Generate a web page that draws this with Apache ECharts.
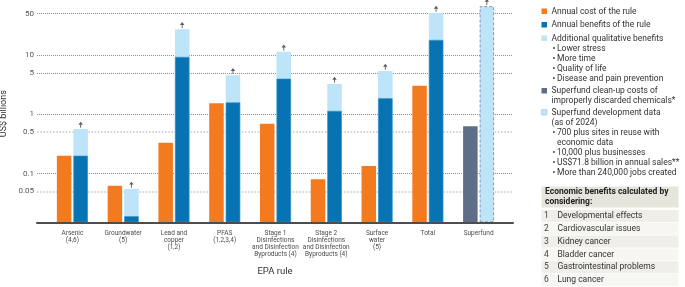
<!DOCTYPE html>
<html>
<head>
<meta charset="utf-8">
<script src="https://cdn.jsdelivr.net/npm/echarts@6/dist/echarts.min.js"></script>
<style>
  html, body { margin: 0; padding: 0; background: #fff; }
  #chart { width: 685px; height: 287px; }
</style>
</head>
<body>
<div id="chart"></div>
<script>
// data (US$ billions, log scale)
const categories = [
  'Arsenic\n(4,6)', 'Groundwater\n(5)', 'Lead and\ncopper\n(1,2)', 'PFAS\n(1,2,3,4)',
  'Stage 1\nDisinfections\nand Disinfection\nByproducts (4)',
  'Stage 2\nDisinfections\nand Disinfection\nByproducts (4)',
  'Surface\nwater\n(5)', 'Total', 'Superfund'
]
const annualCost = [0.2, 0.062, 0.33, 1.53, 0.69, 0.08, 0.134, 3.04, null]
const annualBenefits = [0.2, 0.019, 9.3, 1.59, 4.0, 1.14, 1.86, 18.0, null]
const qualitativeTop = [0.565, 0.055, 27.3, 4.56, 11.4, 3.25, 5.39, 51.4, null]
const superfundCleanup = 0.63
const superfundDevelopment = 67
const yTicks = [0.05, 0.1, 0.5, 1, 5, 10, 50]

const ORANGE = '#f47a20'
const BLUE = '#0773b3'
const LIGHT = '#bde4f8'
const SLATE = '#5e6e88'
const FONT = 'Roboto'

const last = categories.length - 1

let costData = annualCost.map((v, i) => i === last ? { value: superfundCleanup, itemStyle: { color: SLATE } } : v)
let qualData = qualitativeTop.map((v, i) => i === last ? {
  value: superfundDevelopment,
  itemStyle: { color: LIGHT, borderColor: '#8797aa', borderType: [3, 2], borderWidth: 1 }
} : v)
let benefitData = annualBenefits.map(v => v == null ? '-' : v)
let arrowData = qualitativeTop.map((v, i) => i === last ? superfundDevelopment : v)

// legend + table on the right, drawn as text
let graphics = []
const addText = (x, y, text, opt) => {
  graphics.push({
    type: 'text', x: x, y: y, z: 10,
    style: Object.assign({ text: text, fill: '#333', fontSize: 8.5, fontFamily: FONT, verticalAlign: 'middle' }, opt || {})
  })
}
const addRect = (x, y, w, h, fill, stroke, dash) => {
  graphics.push({
    type: 'rect', z: 5, shape: { x: x, y: y, width: w, height: h },
    style: { fill: fill, stroke: stroke || null, lineWidth: stroke ? 1 : 0, lineDash: dash || null }
  })
}

addRect(541.5, 8.5, 5.5, 5.5, ORANGE)
addText(551.5, 11.5, 'Annual cost of the rule')
addRect(541.5, 22, 5.5, 5.5, BLUE)
addText(551.5, 25, 'Annual benefits of the rule')
addRect(541.5, 35.5, 5.5, 5.5, LIGHT)
addText(551.5, 38.5, 'Additional qualitative benefits')
let bullets1 = ['Lower stress', 'More time', 'Quality of life', 'Disease and pain prevention']
bullets1.forEach((t, i) => {
  addText(552.5, 48.5 + i * 10, '•')
  addText(557, 48.5 + i * 10, t)
})
addRect(541.5, 88, 5.5, 5.5, SLATE)
addText(551.5, 91, 'Superfund clean-up costs of')
addText(551.5, 101, 'improperly discarded chemicals*')
addRect(541.5, 109.5, 5.5, 5.5, LIGHT, '#c5d3de')
addText(551.5, 112.5, 'Superfund development data')
addText(551.5, 122.5, '(as of 2024)')
let bullets2 = ['700 plus sites in reuse with', 'economic data', '10,000 plus businesses',
  'US$71.8 billion in annual sales**', 'More than 240,000 jobs created']
bullets2.forEach((t, i) => {
  if (i !== 1) addText(552.5, 132.5 + i * 10, '•')
  addText(557, 132.5 + i * 10, t)
})

// table
addRect(541.5, 186.5, 137, 21, '#e6e5dc')
addText(545, 191.5, 'Economic benefits calculated by', { fontWeight: 'bold', fill: '#222' })
addText(545, 202, 'considering:', { fontWeight: 'bold', fill: '#222' })
let tableRows = ['Developmental effects', 'Cardiovascular issues', 'Kidney cancer',
  'Bladder cancer', 'Gastrointestinal problems', 'Lung cancer']
tableRows.forEach((t, i) => {
  let cy = 216 + i * 12.8
  addRect(541.5, cy - 6, 137, 12, i % 2 === 0 ? '#efeee9' : '#f6f6f3')
  addText(546.5, cy, String(i + 1), { align: 'center', fill: '#444' })
  addText(557.5, cy, t, { fill: '#333' })
})

var Chart = echarts.init(document.getElementById('chart'))
var option = {
  animation: false,
  textStyle: { fontFamily: FONT },
  grid: [
    // bars
    { left: 47, right: 181, top: 5, bottom: 64.7, containLabel: false, outerBoundsMode: 'none' },
    // gridlines, base axis line, axis names
    { left: 37, right: 172, top: 5, bottom: 64.7, containLabel: false, outerBoundsMode: 'none' }
  ],
  xAxis: [
    {
      type: 'category', gridIndex: 0, data: categories,
      axisLine: { show: false }, axisTick: { show: false },
      axisLabel: { interval: 0, margin: 7, fontSize: 6.5, lineHeight: 7.3, color: '#4a4a4a' }
    },
    { type: 'category', gridIndex: 0, data: categories, show: false },
    {
      type: 'value', gridIndex: 1, min: 0, max: 1, z: 10,
      axisLine: { show: true, onZero: false, lineStyle: { color: '#4d4d4d', width: 2 } },
      axisTick: { show: false }, axisLabel: { show: false }, splitLine: { show: false },
      name: 'EPA rule', nameLocation: 'middle', nameGap: 44,
      nameTextStyle: { fontSize: 9.5, color: '#333' }
    }
  ],
  yAxis: [
    {
      type: 'log', gridIndex: 0, min: 0.015, max: 70, startValue: 0.015,
      axisLine: { show: false }, axisTick: { show: false }, axisLabel: { show: false }, splitLine: { show: false }
    },
    {
      type: 'log', gridIndex: 1, min: 0.015, max: 70,
      axisLine: { show: false }, axisTick: { show: false }, axisLabel: { show: false }, splitLine: { show: false },
      name: 'US$ billions', nameLocation: 'middle', nameGap: 29, nameRotate: 90,
      nameTextStyle: { fontSize: 9, color: '#333' }
    }
  ],
  series: [
    {
      name: 'Annual cost of the rule', type: 'bar', xAxisIndex: 0, yAxisIndex: 0, z: 3,
      barWidth: 14.5, barGap: '14%', data: costData,
      itemStyle: { color: ORANGE }
    },
    {
      name: 'Additional qualitative benefits', type: 'bar', xAxisIndex: 0, yAxisIndex: 0, z: 3,
      barWidth: 14.5, barGap: '14%', data: qualData,
      itemStyle: { color: LIGHT }
    },
    {
      name: 'slot', type: 'bar', xAxisIndex: 1, yAxisIndex: 0, z: 3,
      barWidth: 14.5, barGap: '14%', data: categories.map(() => '-')
    },
    {
      name: 'Annual benefits of the rule', type: 'bar', xAxisIndex: 1, yAxisIndex: 0, z: 4,
      barWidth: 14.5, barGap: '14%', data: benefitData,
      itemStyle: { color: BLUE, borderColor: '#3d95c8', borderWidth: 0.6 }
    },
    {
      name: 'arrows', type: 'scatter', xAxisIndex: 0, yAxisIndex: 0, z: 6, clip: false,
      symbol: 'path://M2.5,0 L5,3.4 L3,3.4 L3,7 L2,7 L2,3.4 L0,3.4 Z',
      symbolSize: [4.5, 6], symbolOffset: [8.25, -4.2],
      itemStyle: { color: '#333' }, data: arrowData
    },
    {
      name: 'grid', type: 'line', xAxisIndex: 2, yAxisIndex: 1, data: [],
      markLine: {
        silent: true, symbol: 'none', z: 1, animation: false,
        label: {
          position: 'start', distance: 3, fontSize: 8, color: '#555',
          formatter: p => String(p.value)
        },
        data: yTicks.map(v => ({
          yAxis: v,
          lineStyle: (v === 0.05 || v === 0.5)
            ? { type: 'dotted', color: '#c8c8c8', width: 1.6 }
            : { type: 'dotted', color: '#8c8c8c', width: 1 }
        }))
      }
    }
  ],
  graphic: graphics
}
Chart.setOption(option)
</script>
</body>
</html>
